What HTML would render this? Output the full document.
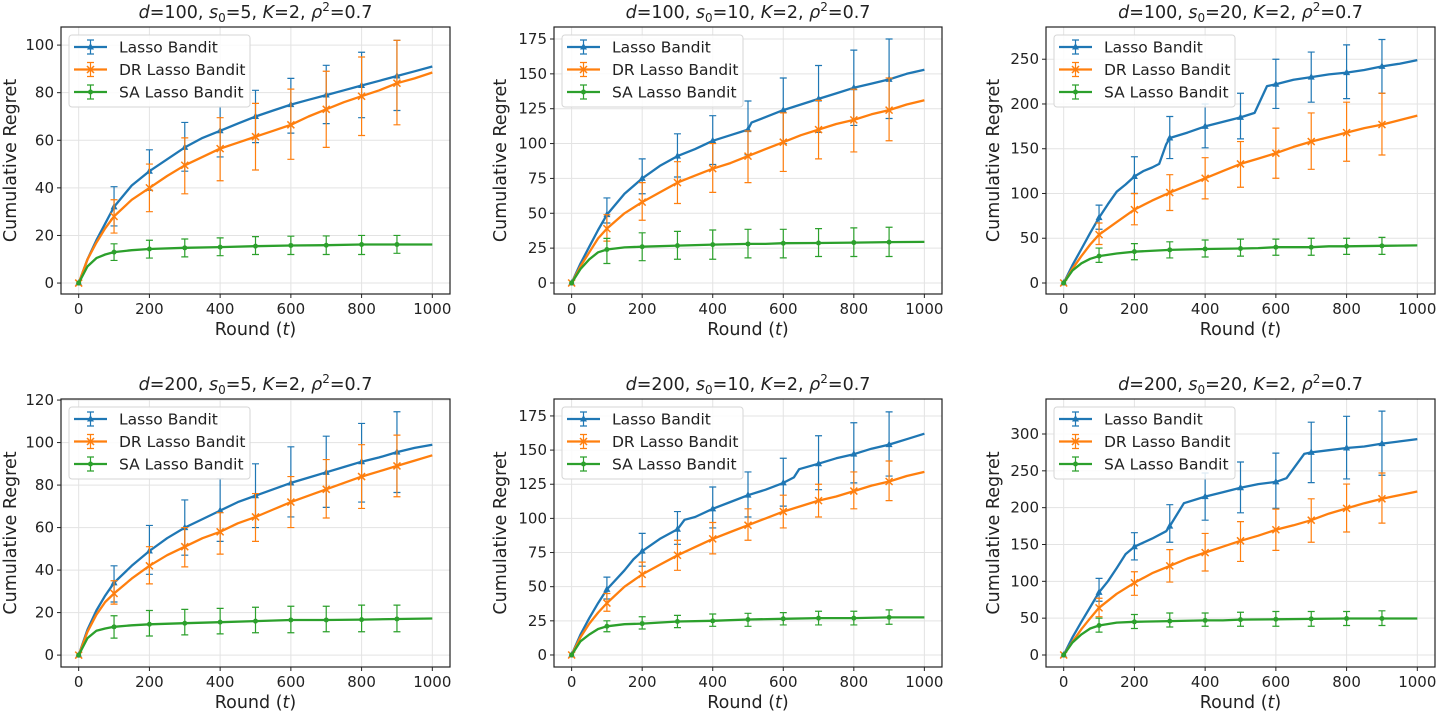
<!DOCTYPE html>
<html><head><meta charset="utf-8">
<style>
html,body{margin:0;padding:0;background:#fff;}
svg{display:block;font-family:"DejaVu Sans","Liberation Sans",sans-serif;}
</style></head>
<body>
<svg id="fig" width="1439" height="714" viewBox="0 0 1439 714" xmlns="http://www.w3.org/2000/svg"></svg>
<script>
// ---------- data ----------
const errT = [100,200,300,400,500,600,700,800,900];
const seriesNames = ["Lasso Bandit","DR Lasso Bandit","SA Lasso Bandit"];
const xTicks = [0,200,400,600,800,1000];

// Panel 1: d=100, s0=5
const p1LassoT = [0,25,50,75,100,150,200,250,300,350,400,450,500,550,600,650,700,750,800,850,900,950,1000];
const p1LassoY = [0,10,18,25,32,41,47,52,57,61,64,67,70,72.5,75,77,79,81,83,85,87,89,91];
const p1LassoLo = [24,39,47,53,59,63,67,69.5,72.5];
const p1LassoHi = [40.5,56,67.5,74,81,86,91.5,97,102];
const p1DrT = [0,25,50,75,100,150,200,250,300,350,400,450,500,550,600,650,700,750,800,850,900,950,1000];
const p1DrY = [0,10,17,23,28,35,40,45,49.5,53,56.5,59,61.5,64,66.5,70,73,76,78.5,81,84,86,88.5];
const p1DrLo = [21,30,37.5,43,47.5,52,57,62,66.5];
const p1DrHi = [35,50,61,69.5,75.5,81.5,89,95,102];
const p1SaT = [0,25,50,75,100,150,200,300,400,500,600,700,800,900,1000];
const p1SaY = [0,7,10.5,12,13,13.8,14.3,14.8,15.1,15.5,15.8,15.9,16.2,16.2,16.2];
const p1SaLo = [9.5,10.5,11,11.5,12,12,12,12,12.5];
const p1SaHi = [16.5,18,18.5,19,19.5,19.7,19.8,20,20];

// Panel 2: d=100, s0=10
const p2LassoT = [0,25,50,75,100,150,200,250,300,350,400,450,500,510,550,600,650,700,750,800,850,900,950,1000];
const p2LassoY = [0,14,26,38,49,64,75,84,91,96,102,106,110,115,119,124,128,132,136,140,143,146,150,153];
const p2LassoLo = [43,64,76,85,92,100,108,113,118];
const p2LassoHi = [61,89,107,120,130.5,147,156,167,175];
const p2DrT = [0,25,50,75,100,150,200,250,300,350,400,450,500,550,600,650,700,750,800,850,900,950,1000];
const p2DrY = [0,12,22,32,39,50,58,65,72,77,82,86,91,96,101,106,110,114,117,121,124,128,131];
const p2DrLo = [30,45,57,65,72,80,89,94,102];
const p2DrHi = [49,72,87,100,109,122,131,139,147];
const p2SaT = [0,25,50,75,100,150,200,300,400,500,550,600,700,800,900,1000];
const p2SaY = [0,10,17,22,24,25.5,26,26.8,27.5,28,28,28.5,28.7,29,29.3,29.5];
const p2SaLo = [14,16,17,17,18,18,19,19,19];
const p2SaHi = [32,36,37,38,38.5,38.5,39,39.5,40];

// Panel 3: d=100, s0=20
const p3LassoT = [0,25,50,75,100,125,150,175,200,225,250,270,290,300,350,400,450,500,540,575,600,650,700,750,800,850,900,950,1000];
const p3LassoY = [0,20,38,56,73,88,102,110,119,125,129,133,155,162,168,175,180,185,190,220,222,227,230,233,235,238,242,245,249];
const p3LassoLo = [60,100,139,151,161,195,202,206,212];
const p3LassoHi = [87,141,186,200,212,250,258,266,272];
const p3DrT = [0,25,50,75,100,150,200,250,300,350,400,450,500,550,600,650,700,750,800,850,900,950,1000];
const p3DrY = [0,16,30,43,54,68,82,92,101,109,117,125,133,139,145,152,158,163,168,173,177,182,187];
const p3DrLo = [43,65,81,94,107,117,127,136,143];
const p3DrHi = [67,100,121,140,158,173,190,202,212];
const p3SaT = [0,25,50,75,100,150,200,300,400,500,550,600,700,750,800,900,1000];
const p3SaY = [0,14,22,27,30,33,35,37,38,38.5,39,40,40,41,41,41.5,42];
const p3SaLo = [23,26,28,29,30,31,31,32,32];
const p3SaHi = [39,44,46,48,49,49,50,50,51];

// Panel 4: d=200, s0=5
const p4LassoT = [0,25,50,75,100,150,200,250,300,350,400,450,500,550,600,650,700,750,800,850,900,950,1000];
const p4LassoY = [0,12,21,28,34,42,49,55,60,64,68,72,75,78,81,83.5,86,88.5,91,93,95.5,97.5,99];
const p4LassoLo = [25,38,47,53.5,60,65,69.5,72,76.5];
const p4LassoHi = [42,61,73,83,90,98,103,109,114.5];
const p4DrT = [0,25,50,75,100,150,200,250,300,350,400,450,500,550,600,650,700,750,800,850,900,950,1000];
const p4DrY = [0,11,19,25,29,36,42,47,51,55,58,62,65,68.5,72,75,78,81,84,86.5,89,91.5,94];
const p4DrLo = [24,33.5,41.5,47.5,53.5,60,64.5,69,74.5];
const p4DrHi = [35,51,60,67,76,84,92,99,103.5];
const p4SaT = [0,25,50,75,100,150,200,300,400,500,600,700,800,900,1000];
const p4SaY = [0,8,11.5,12.5,13.3,14,14.5,15,15.5,16,16.5,16.5,16.7,17,17.2];
const p4SaLo = [8,9,9.5,10,10.5,10.5,11,11,11];
const p4SaHi = [18.5,21,21.5,22,22.5,23,23,23.5,23.5];

// Panel 5: d=200, s0=10
const p5LassoT = [0,25,50,75,100,150,175,200,250,300,320,350,400,450,500,550,600,630,645,700,750,800,850,900,950,1000];
const p5LassoY = [0,15,27,38,48,62,70,76,85,92,99,101,107,112,117,121,126,130,136,140,144,147,151,154,158,162];
const p5LassoLo = [41,65,81,93,101,109,121,126,131];
const p5LassoHi = [57,89,105,123,134,144,160.5,170,178];
const p5DrT = [0,25,50,75,100,150,200,250,300,350,400,450,500,550,600,650,700,750,800,850,900,950,1000];
const p5DrY = [0,13,23,31,38,50,59,66,73,79,85,90,95,100,105,109,113,116,120,124,127,131,134];
const p5DrLo = [32,50,62,74,84,93,101,107,113];
const p5DrHi = [45,68,84,97,107,117,125,134,142];
const p5SaT = [0,25,50,75,100,150,200,300,400,500,600,700,800,900,1000];
const p5SaY = [0,10,15,19,21,22.5,23,24.5,25,26,26.5,27,27,27.5,27.5];
const p5SaLo = [17,19,20,21,21,22,22,22,22.5];
const p5SaHi = [25,28,29,30,30.5,31,32,32,33];

// Panel 6: d=200, s0=20
const p6LassoT = [0,25,50,75,100,125,150,175,200,250,290,300,340,400,450,500,550,600,630,680,700,750,800,850,900,950,1000];
const p6LassoY = [0,24,45,65,85,100,118,137,147,158,168,175,206,215,221,227,232,235,240,273,275,278,281,283,287,290,293];
const p6LassoLo = [73,129,153,183,193,199,234,239,244];
const p6LassoHi = [104,166,204,247,262,274,316,324,331];
const p6DrT = [0,25,50,75,100,150,200,250,300,350,400,450,500,550,600,650,700,750,800,850,900,950,1000];
const p6DrY = [0,18,35,50,64,83,98,111,121,131,139,147,155,162,170,176,183,192,199,206,212,217,222];
const p6DrLo = [52,81,99,114,127,142,153,167,179];
const p6DrHi = [77,113,143,165,181,198,212,232,247];
const p6SaT = [0,25,50,75,100,150,200,300,400,450,500,600,700,800,900,1000];
const p6SaY = [0,17,28,36,40,44,45,46,47,47,48,48.5,49,49.5,49.5,49.5];
const p6SaLo = [31,36,38,39,39,39,39,40,40];
const p6SaHi = [50,55,57,57,58,59,59,59,60];

const p1YTicks=[0,20,40,60,80,100], p2YTicks=[0,25,50,75,100,125,150,175], p3YTicks=[0,50,100,150,200,250];
const p4YTicks=[0,20,40,60,80,100,120], p5YTicks=[0,25,50,75,100,125,150,175], p6YTicks=[0,50,100,150,200,250,300];

// ---------- layout ----------
const panels = [
 {d:"100",s:"5", box:[61,450,27,294], ylim:[-4.6,107.6], yt:p1YTicks, ylabX:10,
  S:[[p1LassoT,p1LassoY,p1LassoLo,p1LassoHi],[p1DrT,p1DrY,p1DrLo,p1DrHi],[p1SaT,p1SaY,p1SaLo,p1SaHi]]},
 {d:"100",s:"10", box:[554,942,27,294], ylim:[-7.9,183.6], yt:p2YTicks, ylabX:500,
  S:[[p2LassoT,p2LassoY,p2LassoLo,p2LassoHi],[p2DrT,p2DrY,p2DrLo,p2DrHi],[p2SaT,p2SaY,p2SaLo,p2SaHi]]},
 {d:"100",s:"20", box:[1046,1435,27,294], ylim:[-12.3,286], yt:p3YTicks, ylabX:993,
  S:[[p3LassoT,p3LassoY,p3LassoLo,p3LassoHi],[p3DrT,p3DrY,p3DrLo,p3DrHi],[p3SaT,p3SaY,p3SaLo,p3SaHi]]},
 {d:"200",s:"5", box:[61,450,399,667], ylim:[-5.6,120.5], yt:p4YTicks, ylabX:10,
  S:[[p4LassoT,p4LassoY,p4LassoLo,p4LassoHi],[p4DrT,p4DrY,p4DrLo,p4DrHi],[p4SaT,p4SaY,p4SaLo,p4SaHi]]},
 {d:"200",s:"10", box:[554,942,399,667], ylim:[-8.8,187.4], yt:p5YTicks, ylabX:500,
  S:[[p5LassoT,p5LassoY,p5LassoLo,p5LassoHi],[p5DrT,p5DrY,p5DrLo,p5DrHi],[p5SaT,p5SaY,p5SaLo,p5SaHi]]},
 {d:"200",s:"20", box:[1046,1435,399,667], ylim:[-16.3,347.5], yt:p6YTicks, ylabX:993,
  S:[[p6LassoT,p6LassoY,p6LassoLo,p6LassoHi],[p6DrT,p6DrY,p6DrLo,p6DrHi],[p6SaT,p6SaY,p6SaLo,p6SaHi]]},
];
const colors=["#1f77b4","#ff7f0e","#2ca02c"];
const NS="http://www.w3.org/2000/svg";
const svg=document.getElementById("fig");
function mk(tag,attrs,parent){const e=document.createElementNS(NS,tag);for(const k in attrs)e.setAttribute(k,attrs[k]);(parent||svg).appendChild(e);return e;}

function marker(g,k,x,y,c){
  if(k===0){const m=mk("path",{d:`M${x},${y-4} L${x+3.5},${y+2.5} L${x-3.5},${y+2.5}Z`,fill:c},g);
    
    }
  else if(k===1){const m=mk("path",{d:`M${x-3.5},${y-3.5}L${x+3.5},${y+3.5}M${x-3.5},${y+3.5}L${x+3.5},${y-3.5}`,stroke:c,"stroke-width":1.5},g);
    
    }
  else {const m=mk("circle",{cx:x,cy:y,r:2.5,fill:c},g);
    
    }
}

panels.forEach((p,pi)=>{
  const [L,R,T,B]=p.box;
  const xs=v=>L+(v+50)/1100*(R-L);
  const ys=v=>B-(v-p.ylim[0])/(p.ylim[1]-p.ylim[0])*(B-T);
  const g=mk("g",{});
  
  
  xTicks.forEach(v=>{const l=mk("line",{x1:xs(v),x2:xs(v),y1:T,y2:B,stroke:"#e3e3e3","stroke-width":1},g);
    
    });
  p.yt.forEach(v=>{const l=mk("line",{x1:L,x2:R,y1:ys(v),y2:ys(v),stroke:"#e3e3e3","stroke-width":1},g);
    
    });
  p.S.forEach((s,k)=>{
    const c=colors[k];
    const sg=mk("g",{},g);
    
    
    const [t,y,lo,hi]=s;
    const pts=t.map((v,i)=>xs(v).toFixed(1)+","+ys(y[i]).toFixed(1)).join(" ");
    const pl=mk("polyline",{points:pts,fill:"none",stroke:c,"stroke-width":2.3,"stroke-linejoin":"round"},sg);
    
    
    errT.forEach((tv,i)=>{
      const x=xs(tv), y1=ys(lo[i]), y2=ys(hi[i]);
      const e=mk("path",{d:`M${x},${y1}L${x},${y2}M${x-3.5},${y1}L${x+3.5},${y1}M${x-3.5},${y2}L${x+3.5},${y2}`,stroke:c,"stroke-width":1.2,fill:"none"},sg);
      
      
      const idx=t.indexOf(tv); const mv=idx>=0?y[idx]:(lo[i]+hi[i])/2;
      marker(sg,k,x,ys(mv),c);
    });
    marker(sg,k,xs(t[0]),ys(y[0]),c);
  });
  const fr=mk("rect",{x:L,y:T,width:R-L,height:B-T,fill:"none",stroke:"#222","stroke-width":1.2},g);
  
  
  xTicks.forEach(v=>{
    const tk=mk("line",{x1:xs(v),x2:xs(v),y1:B,y2:B+4,stroke:"#222"},g);
    
    
    const tx=mk("text",{x:xs(v),y:B+20,"text-anchor":"middle","font-size":15,fill:"#222"},g);
    tx.textContent=v;
    
    
  });
  p.yt.forEach(v=>{
    const tk=mk("line",{x1:L-4,x2:L,y1:ys(v),y2:ys(v),stroke:"#222"},g);
    
    
    const tx=mk("text",{x:L-7,y:ys(v)+5,"text-anchor":"end","font-size":15,fill:"#222"},g);
    tx.textContent=v;
    
    
  });
  const xl=mk("text",{x:(L+R)/2,y:B+41,"text-anchor":"middle","font-size":17.5,fill:"#222"},g);
  xl.innerHTML='Round (<tspan font-style="italic">t</tspan>)';
  
  
  const yl=mk("text",{x:0,y:0,"text-anchor":"middle","font-size":17.5,fill:"#222",transform:`translate(${p.ylabX+6},${(T+B)/2}) rotate(-90)`},g);
  yl.textContent="Cumulative Regret";
  
  
  const ti=mk("text",{x:(L+R)/2,y:T-9,"text-anchor":"middle","font-size":17.5,fill:"#222"},g);
  ti.innerHTML=`<tspan font-style="italic">d</tspan>=${p.d}, <tspan font-style="italic">s</tspan><tspan font-size="12" dy="4">0</tspan><tspan dy="-4">=${p.s}, </tspan><tspan font-style="italic">K</tspan>=2, <tspan font-style="italic">ρ</tspan><tspan font-size="12" dy="-7">2</tspan><tspan dy="7">=0.7</tspan>`;
  
  
  const lg=mk("g",{},g);
  
  
  const lx=L+8, ly=T+8;
  mk("rect",{x:lx,y:ly,width:181,height:72,rx:3,fill:"#fff","fill-opacity":0.85,stroke:"#d6d6d6"},lg);
  seriesNames.forEach((n,k)=>{
    const cy=ly+12+k*22.5, c=colors[k];
    const eg=mk("g",{},lg);
    
    
    mk("line",{x1:lx+5,x2:lx+38,y1:cy,y2:cy,stroke:c,"stroke-width":2.3},eg);
    mk("path",{d:`M${lx+21.5},${cy-7}L${lx+21.5},${cy+7}M${lx+18},${cy-7}L${lx+25},${cy-7}M${lx+18},${cy+7}L${lx+25},${cy+7}`,stroke:c,"stroke-width":1.2},eg);
    marker(eg,k,lx+21.5,cy,c);
    const tx=mk("text",{x:lx+50,y:cy+5.5,"font-size":15.5,fill:"#222"},eg);
    tx.textContent=n;
  });
});
</script>
</body></html>
